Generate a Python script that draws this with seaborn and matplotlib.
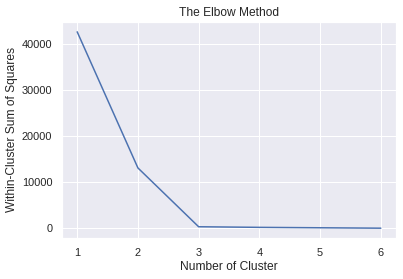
import matplotlib
matplotlib.use("Agg")
import matplotlib.pyplot as plt
import seaborn as sns
import pandas as pd

clusters = [1, 2, 3, 4, 5, 6]
wcss = [42600, 13100, 350, 220, 130, 40]

sns.set_theme()
plt.rcParams['font.family'] = ['Liberation Sans', 'DejaVu Sans']
fig = plt.figure(figsize=(403/72, 279/72), dpi=72)
ax = fig.add_axes([62/403, 1-238/279, (396-62)/403, (238-22)/279])
df = pd.DataFrame({"k": clusters, "wcss": wcss})
sns.lineplot(data=df, x="k", y="wcss", ax=ax)
ax.set_title("The Elbow Method")
ax.set_xlabel("Number of Cluster")
ax.set_ylabel("Within-Cluster Sum of Squares")
fig.savefig("out.png", dpi=72)
